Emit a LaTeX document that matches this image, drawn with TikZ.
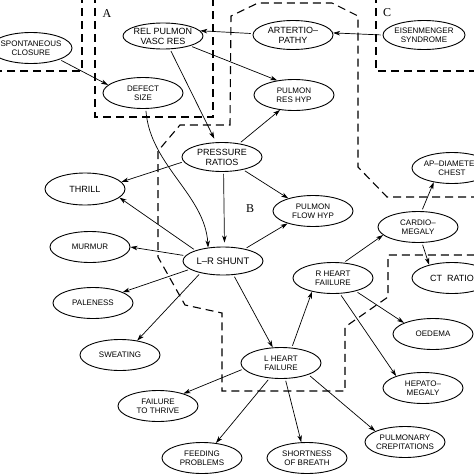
\documentclass[tikz,border=0pt]{standalone}
\usepackage{fontspec}
\setsansfont{Liberation Sans}
\newfontfamily\lettfont{Liberation Serif}
\usetikzlibrary{shapes,arrows.meta}

\begin{document}
\begin{tikzpicture}[x=1pt,y=-1pt,
  sym/.style={ellipse,draw,line width=0.9pt,minimum width=80pt,minimum height=31pt,
    inner xsep=-14pt,inner ysep=0pt,align=center,font=\sffamily\fontsize{8}{9}\selectfont},
  big/.style={font=\sffamily\fontsize{9}{10}\selectfont},
  arr/.style={-{Stealth[length=7pt,width=4.5pt,inset=2pt]},line width=0.7pt,shorten <=2pt},
  region/.style={dash pattern=on 8pt off 5pt,line width=1.1pt},
  lett/.style={font=\lettfont\fontsize{12}{12}\selectfont}]
  \useasboundingbox (0,0) rectangle (474,474);
  % dashed regions
  \draw[region] (82,-5) -- (82,71) -- (-5,71);
  \draw[region] (95,-5) -- (95,117) -- (213,117) -- (213,-5);
  \draw[region] (376,-5) -- (376,71) -- (479,71);
  \draw[region] (479,197) -- (387,197) -- (358,167) -- (358,16) -- (332,3) -- (258,3)
     -- (231,16) -- (230,125) -- (180,125) -- (158,151) -- (158,257) -- (185,305)
     -- (222,313) -- (222,391) -- (345,391) -- (345,327) -- (388,297) -- (388,255) -- (479,255);
  \node[lett] (la) at (107,14) {A};
  \node[lett] (lb) at (250,209) {B};
  \node[lett] (lc) at (387,13) {C};
  % nodes
  \node[sym,minimum width=82pt] (spont) at (31,48) {SPONTANEOUS\\CLOSURE};
  \node[sym,big,minimum height=26pt] (relpv) at (163,36) {REL PULMON\\VASC RES};
  \node[sym] (defect) at (143,93) {DEFECT\\SIZE};
  \node[sym,big,minimum height=29pt] (artp) at (293,35) {ARTERTIO–\\PATHY};
  \node[sym,minimum height=29pt,minimum width=82pt] (eisen) at (424,35) {EISENMENGER\\SYNDROME};
  \node[sym] (prh) at (294,95) {PULMON\\RES HYP};
  \node[sym,big,minimum height=29pt] (press) at (222,157) {PRESSURE\\RATIOS};
  \node[sym,big,minimum height=32pt] (thrill) at (85,189) {THRILL};
  \node[sym] (murmur) at (90,247) {MURMUR};
  \node[sym,minimum height=28pt,font=\sffamily\fontsize{9.5}{10}\selectfont] (shunt) at (223,261) {L–R SHUNT};
  \node[sym] (pale) at (93,303) {PALENESS};
  \node[sym] (pfh) at (313,211) {PULMON\\FLOW HYP};
  \node[sym] (apd) at (452,168) {AP–DIAMETER\\CHEST};
  \node[sym] (cardio) at (418,227) {CARDIO–\\MEGALY};
  \node[sym,big] (ctr) at (452,278) {CT\ \ RATIO};
  \node[sym] (rhf) at (333,278) {R HEART\\FAIILURE};
  \node[sym] (oed) at (433,334) {OEDEMA};
  \node[sym] (hep) at (423,388) {HEPATO–\\MEGALY};
  \node[sym] (lhf) at (281,363) {L HEART\\FAILURE};
  \node[sym] (sweat) at (120,355) {SWEATING};
  \node[sym] (ftt) at (158,406) {FAILURE\\TO THRIVE};
  \node[sym] (feed) at (202,458) {FEEDING\\PROBLEMS};
  \node[sym] (sob) at (307,458) {SHORTNESS\\OF BREATH};
  \node[sym] (crep) at (405,442) {PULMONARY\\CREPITATIONS};
  % links
  \draw[arr] (spont.-22) -- (defect.167);
  \draw[arr,shorten >=4pt] (relpv.-62) -- (press.112);
  \draw[arr] (relpv.-20) -- (prh.139);
  \draw[arr] (artp.178) -- (relpv.8);
  \draw[arr] (eisen.180) -- (artp.3);
  \draw[arr] (defect.-80) .. controls (150,165) and (205,195) .. (shunt.138);
  \draw[arr] (press.38) -- (prh.-133);
  \draw[arr] (press.187) -- (thrill.11);
  \draw[arr,shorten >=4pt] (press.-84) -- (shunt.84);
  \draw[arr] (press.-31) -- (pfh.153);
  \draw[arr] (shunt.159) -- (thrill.-14);
  \draw[arr] (shunt.172) -- (murmur.0);
  \draw[arr] (shunt.194) -- (pale.20);
  \draw[arr] (shunt.208) -- (sweat.40);
  \draw[arr] (shunt.29) -- (pfh.206);
  \draw[arr] (shunt.-53) -- (lhf.118);
  \draw[arr] (lhf.55) -- (rhf.213);
  \draw[arr] (rhf.55) -- (cardio.193);
  \draw[arr] (cardio.77) -- (apd.218);
  \draw[arr] (cardio.-76) -- (ctr.150);
  \draw[arr] (rhf.-30) -- (oed.159);
  \draw[arr] (rhf.-66) -- (hep.156);
  \draw[arr] (lhf.189) -- (ftt.26);
  \draw[arr] (lhf.233) -- (feed.47);
  \draw[arr] (lhf.-75) -- (sob.110);
  \draw[arr] (lhf.-23) -- (crep.160);
\end{tikzpicture}
\end{document}
